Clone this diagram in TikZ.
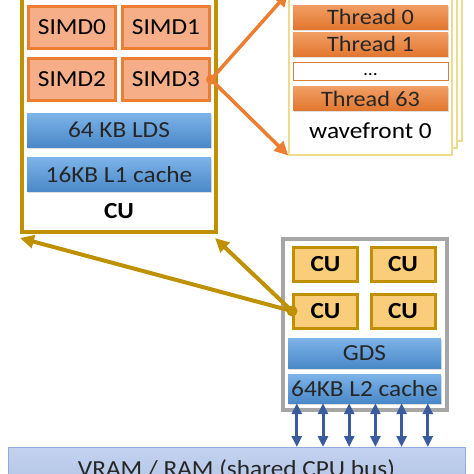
\documentclass[tikz,border=0pt]{standalone}
\usepackage{fontspec}
\setmainfont{Carlito}[FakeStretch=1.1]
\usetikzlibrary{positioning,arrows.meta,shadows}

\definecolor{cugold}{HTML}{BF9000}
\definecolor{cufill}{HTML}{FACD7A}
\definecolor{wforange}{HTML}{ED7D31}
\definecolor{simdfill}{HTML}{F5AE88}
\definecolor{bluetop}{HTML}{7DB4E8}
\definecolor{bluebot}{HTML}{4A88C8}
\definecolor{wfline}{HTML}{EEDC8E}
\definecolor{gpugray}{HTML}{A6A6A6}
\definecolor{busblue}{HTML}{3A5C9E}
\definecolor{vramtop}{HTML}{C3D2EE}
\definecolor{vrambot}{HTML}{A8BCE2}
\definecolor{vramline}{HTML}{8FAADC}

\begin{document}
\begin{tikzpicture}
[x=1pt,y=-1pt,>={Triangle[length=14pt,width=13pt]},node distance=4pt,
 font=\fontsize{23}{26}\selectfont]

  \tikzstyle{simd}=[draw=wforange,line width=3pt,fill=simdfill,minimum width=87pt,minimum height=42pt,inner sep=0pt]
  \tikzstyle{mem}=[top color=bluetop,bottom color=bluebot,text=black!85,inner sep=0pt,
                   drop shadow={shadow xshift=1pt,shadow yshift=-1.5pt,opacity=0.25}]
  \tikzstyle{thread}=[top color=wforange!75,bottom color=wforange!95!black,text=black!85,
                      minimum width=155pt,minimum height=24pt,inner sep=0pt,
                      font=\fontsize{22}{26}\selectfont,
                      drop shadow={shadow xshift=1pt,shadow yshift=-1.5pt,opacity=0.25}]
  \tikzstyle{wave}=[draw=wfline,line width=1.2pt,fill=white,minimum width=163pt,minimum height=162pt]
  \tikzstyle{cu}=[draw=cugold,line width=3pt,fill=cufill,minimum width=64pt,minimum height=34pt,inner sep=0pt,font=\fontsize{23}{26}\selectfont\bfseries]
  \tikzstyle{orangeline}=[wforange,line width=3.5pt]
  \tikzstyle{goldline}=[cugold,line width=4pt]
  \tikzstyle{busline}=[busblue,line width=3pt]

  \clip (0,0) rectangle (474,474);

  % compute unit
  \node[draw=cugold,line width=4pt,fill=white,minimum width=194pt,minimum height=260pt,anchor=south] (cubig) at (119,234) {};
  \node[simd] (simd0) at (72,27.5) {SIMD0};
  \node[simd] (simd1) [right=of simd0] {SIMD1};
  \node[simd] (simd2) [below=7pt of simd0] {SIMD2};
  \node[simd] (simd3) [right=of simd2] {SIMD3};
  \node[mem,minimum width=184pt,minimum height=34pt] (lds) at (119,130) {64 KB LDS};
  \node[mem,minimum width=184pt,minimum height=34pt] (l1) [below=10pt of lds] {16KB L1 cache};
  \node[font=\fontsize{23}{26}\selectfont\bfseries] (culabel) at (119,211) {CU};

  % wavefronts
  \node[wave] (wf2) at (380.5,60) {};
  \node[wave] (wf1) at (375.5,67) {};
  \node[wave] (wf0) at (370.5,74) {};
  \node[thread] (th0) at (370.5,17) {Thread 0};
  \node[thread] (th1) [below=3pt of th0] {Thread 1};
  \node[draw=wforange!60!brown,line width=0.8pt,fill=white,minimum width=155pt,minimum height=18pt,inner sep=0pt,
        font=\fontsize{18}{20}\selectfont,text depth=0pt] (thdots) at (370.5,71) {\raisebox{-4pt}{...}};
  \node[thread] (th63) at (370.5,98.5) {Thread 63};
  \node (wflabel) at (370.5,131) {wavefront 0};

  % GPU
  \node[draw=gpugray,line width=3.5pt,fill=white,minimum width=164pt,minimum height=171pt] (gpu) at (365,324.5) {};
  \node[cu] (cua) at (325.5,264.5) {CU};
  \node[cu] (cub) at (403,264.5) {CU};
  \node[cu] (cuc) at (325.5,311) {CU};
  \node[cu] (cud) at (403,311) {CU};
  \node[mem,minimum width=153pt,minimum height=30pt] (gds) at (364.5,353) {GDS};
  \node[mem,minimum width=153pt,minimum height=29pt] (l2) at (364.5,388.5) {64KB L2 cache};

  % memory bus
  \node[top color=vramtop,bottom color=vrambot,draw=vramline,line width=1pt,minimum width=457pt,
        anchor=north,inner ysep=14pt,text height=14.5pt,text depth=20pt,text=black!85] (vram) at (236.5,447) {VRAM / RAM (shared CPU bus)};

  \foreach \i in {0,...,5}
    \draw[busline,{Triangle[length=11pt,width=10pt]}-{Triangle[length=11pt,width=10pt]}]
      ([xshift=9pt+26.2pt*\i]l2.south west) -- ([xshift=9pt+26.2pt*\i]l2.south west |- vram.north);

  % connectors
  \fill[wforange] (simd3.east) circle (5pt);
  \draw[->,orangeline] (simd3.east) -- (wf0.north west);
  \draw[->,orangeline] (simd3.east) -- (wf0.south west);

  \fill[cugold] (cuc.west) circle (5.5pt);
  \draw[->,goldline] (cuc.west) -- ([yshift=-4pt]cubig.south west);
  \draw[->,goldline] (cuc.west) -- ([xshift=-3pt,yshift=-4pt]cubig.south east);
\end{tikzpicture}
\end{document}
